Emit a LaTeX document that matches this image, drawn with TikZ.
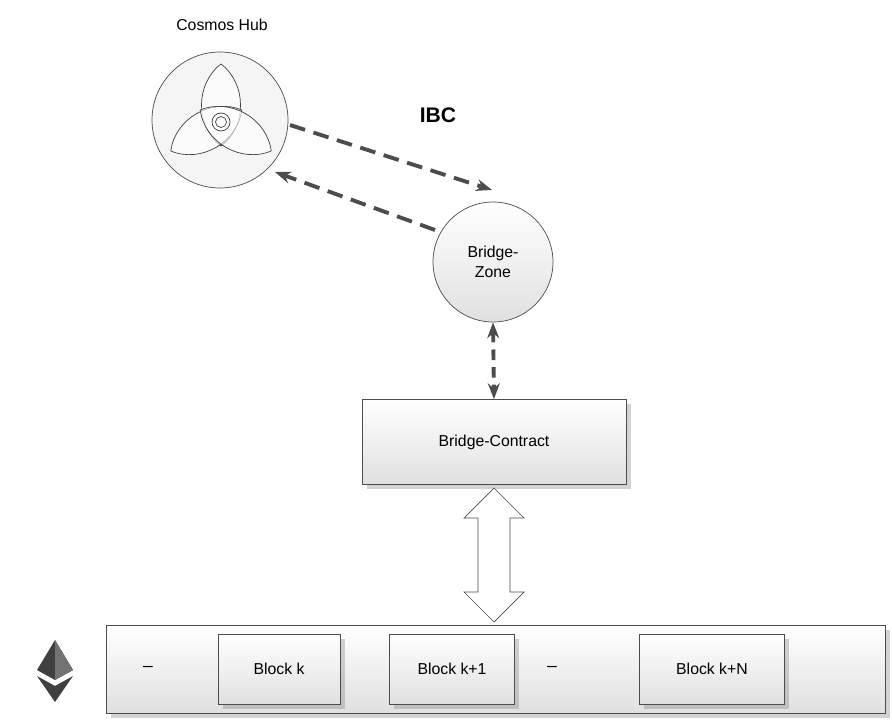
\documentclass[tikz,border=0pt]{standalone}
\usepackage{fontspec}
\setmainfont{Liberation Sans}
\usetikzlibrary{shadows,arrows.meta}
\begin{document}
\begin{tikzpicture}
	[x=0.02cm,y=-0.02cm,
	 box/.style={draw=black!70,top color=white,bottom color=black!12,drop shadow={opacity=0.35},inner sep=0pt},
	 blk/.style={box,minimum height=70*0.02cm},
	 ibc/.style={draw=black!70,line width=2.2pt,dash pattern=on 9pt off 5pt,-{Stealth[length=9pt]}}]
	\useasboundingbox (0,0) rectangle (892,720);
	% hub and zone
	\node[circle,draw=black!70,fill=black!4,minimum size=136*0.02cm] (hub) at (220,120) {};
	\node[font=\small] (hublabel) at (222,25) {Cosmos Hub};
	\foreach \a in {0,120,240}
		\draw[black!75,fill=white,fill opacity=0.6,shift={(221,122)},rotate=\a] (0,-58) .. controls (26,-38) and (26,4) .. (0,24) .. controls (-26,4) and (-26,-38) .. (0,-58);
	\draw[black!75] (221,122) circle (9);
	\draw[black!75] (221,122) circle (5.5);
	\node[font=\bfseries\large] (ibclabel) at (438,115) {IBC};
	\node[circle,draw=black!70,top color=white,bottom color=black!12,minimum size=120*0.02cm,align=center,font=\small] (zone) at (493,262) {Bridge-\\Zone};
	\coordinate (h1) at (290,125);
	\coordinate (z1) at (492,190);
	\coordinate (z2) at (435,230);
	\coordinate (h2) at (275,172);
	\draw[ibc] (h1) -- (z1);
	\draw[ibc] (z2) -- (h2);
	% contract
	\node[box,minimum width=264*0.02cm,minimum height=85*0.02cm,font=\small] (contract) at (494,442) {Bridge-Contract};
	\draw[ibc,{Stealth[length=9pt]}-{Stealth[length=9pt]},dash pattern=on 6pt off 4pt] (zone.south) -- (contract.north);
	% chain
	\node[box,minimum width=779*0.02cm,minimum height=88*0.02cm] (chain) at (496,669) {};
	\node[blk,minimum width=122*0.02cm,font=\small] (b1) at (279,669) {Block k};
	\node[blk,minimum width=125*0.02cm,font=\small] (b2) at (452,669) {Block k+1};
	\node[blk,minimum width=145*0.02cm,font=\small] (b3) at (712,669) {Block k+N};
	\node (d1) at (148,669) {--};
	\node (d2) at (552,669) {--};
	% hollow link arrow
	\draw[black!70,fill=white] (494,488) -- (524,518) -- (510,518) -- (510,592) -- (524,592) -- (494,622)
		-- (464,592) -- (478,592) -- (478,518) -- (464,518) -- cycle;
	% ether logo
	\fill[black!75] (55,640) -- (73,670) -- (55,680) -- (37,670) -- cycle;
	\fill[black!55] (55,640) -- (73,670) -- (55,680) -- cycle;
	\fill[black!75] (37,676) -- (55,686) -- (73,676) -- (55,702) -- cycle;
\end{tikzpicture}
\end{document}
